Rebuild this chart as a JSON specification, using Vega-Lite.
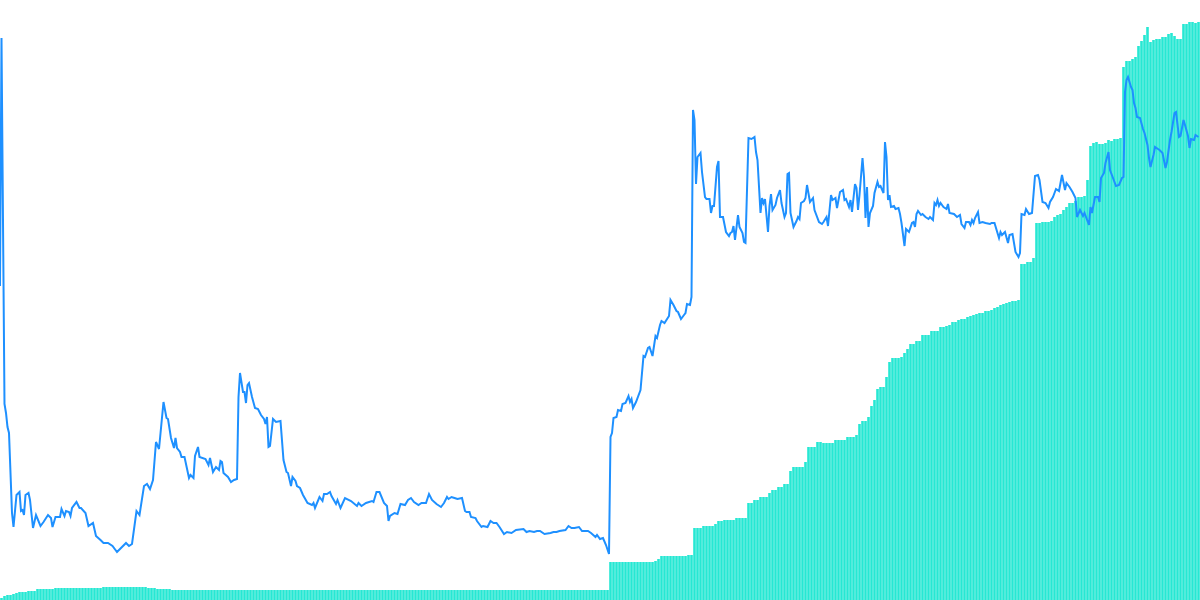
{
"$schema": "https://vega.github.io/schema/vega-lite/v6.json",
"width": 1200, "height": 600,
"autosize": {"type": "none"},
"padding": 0,
"background": "#ffffff",
"config": {"view": {"stroke": null}},
"datasets": {
"bars": [
{"day":1,"tvl":2},{"day":3,"tvl":4},{"day":5,"tvl":5},{"day":7,"tvl":5},{"day":9,"tvl":6},{"day":11,"tvl":7},{"day":13,"tvl":8},{"day":15,"tvl":8},{"day":17,"tvl":8},{"day":19,"tvl":9},{"day":21,"tvl":9},{"day":23,"tvl":9},
{"day":25,"tvl":11},{"day":27,"tvl":11},{"day":29,"tvl":11},{"day":31,"tvl":11},{"day":33,"tvl":11},{"day":35,"tvl":11},
{"day":37,"tvl":12},{"day":39,"tvl":12},{"day":41,"tvl":12},{"day":43,"tvl":12},{"day":45,"tvl":12},{"day":47,"tvl":12},{"day":49,"tvl":12},{"day":51,"tvl":12},{"day":53,"tvl":12},{"day":55,"tvl":12},{"day":57,"tvl":12},{"day":59,"tvl":12},{"day":61,"tvl":12},{"day":63,"tvl":12},{"day":65,"tvl":12},{"day":67,"tvl":12},
{"day":69,"tvl":13},{"day":71,"tvl":13},{"day":73,"tvl":13},{"day":75,"tvl":13},{"day":77,"tvl":13},{"day":79,"tvl":13},{"day":81,"tvl":13},{"day":83,"tvl":13},{"day":85,"tvl":13},{"day":87,"tvl":13},{"day":89,"tvl":13},{"day":91,"tvl":13},{"day":93,"tvl":13},{"day":95,"tvl":13},{"day":97,"tvl":13},
{"day":99,"tvl":12},{"day":101,"tvl":12},{"day":103,"tvl":12},
{"day":105,"tvl":11},{"day":107,"tvl":11},{"day":109,"tvl":11},{"day":111,"tvl":11},{"day":113,"tvl":11},
{"day":115,"tvl":10},{"day":117,"tvl":10},{"day":119,"tvl":10},{"day":121,"tvl":10},{"day":123,"tvl":10},{"day":125,"tvl":10},{"day":127,"tvl":10},{"day":129,"tvl":10},{"day":131,"tvl":10},{"day":133,"tvl":10},
{"day":135,"tvl":10},{"day":137,"tvl":10},{"day":139,"tvl":10},{"day":141,"tvl":10},{"day":143,"tvl":10},{"day":145,"tvl":10},{"day":147,"tvl":10},{"day":149,"tvl":10},{"day":151,"tvl":10},{"day":153,"tvl":10},
{"day":155,"tvl":10},{"day":157,"tvl":10},{"day":159,"tvl":10},{"day":161,"tvl":10},{"day":163,"tvl":10},{"day":165,"tvl":10},{"day":167,"tvl":10},{"day":169,"tvl":10},{"day":171,"tvl":10},{"day":173,"tvl":10},
{"day":175,"tvl":10},{"day":177,"tvl":10},{"day":179,"tvl":10},{"day":181,"tvl":10},{"day":183,"tvl":10},{"day":185,"tvl":10},{"day":187,"tvl":10},{"day":189,"tvl":10},{"day":191,"tvl":10},{"day":193,"tvl":10},
{"day":195,"tvl":10},{"day":197,"tvl":10},{"day":199,"tvl":10},{"day":201,"tvl":10},{"day":203,"tvl":10},{"day":205,"tvl":10},{"day":207,"tvl":10},{"day":209,"tvl":10},{"day":211,"tvl":10},{"day":213,"tvl":10},
{"day":215,"tvl":10},{"day":217,"tvl":10},{"day":219,"tvl":10},{"day":221,"tvl":10},{"day":223,"tvl":10},{"day":225,"tvl":10},{"day":227,"tvl":10},{"day":229,"tvl":10},{"day":231,"tvl":10},{"day":233,"tvl":10},
{"day":235,"tvl":10},{"day":237,"tvl":10},{"day":239,"tvl":10},{"day":241,"tvl":10},{"day":243,"tvl":10},{"day":245,"tvl":10},{"day":247,"tvl":10},{"day":249,"tvl":10},{"day":251,"tvl":10},{"day":253,"tvl":10},
{"day":255,"tvl":10},{"day":257,"tvl":10},{"day":259,"tvl":10},{"day":261,"tvl":10},{"day":263,"tvl":10},{"day":265,"tvl":10},{"day":267,"tvl":10},{"day":269,"tvl":10},{"day":271,"tvl":10},{"day":273,"tvl":10},
{"day":275,"tvl":10},{"day":277,"tvl":10},{"day":279,"tvl":10},{"day":281,"tvl":10},{"day":283,"tvl":10},{"day":285,"tvl":10},{"day":287,"tvl":10},{"day":289,"tvl":10},{"day":291,"tvl":10},{"day":293,"tvl":10},
{"day":295,"tvl":10},{"day":297,"tvl":10},{"day":299,"tvl":10},{"day":301,"tvl":10},{"day":303,"tvl":10},{"day":305,"tvl":10},{"day":307,"tvl":10},{"day":309,"tvl":10},{"day":311,"tvl":10},{"day":313,"tvl":10},
{"day":315,"tvl":10},{"day":317,"tvl":10},{"day":319,"tvl":10},{"day":321,"tvl":10},{"day":323,"tvl":10},{"day":325,"tvl":10},{"day":327,"tvl":10},{"day":329,"tvl":10},{"day":331,"tvl":10},{"day":333,"tvl":10},
{"day":335,"tvl":10},{"day":337,"tvl":10},{"day":339,"tvl":10},{"day":341,"tvl":10},{"day":343,"tvl":10},{"day":345,"tvl":10},{"day":347,"tvl":10},{"day":349,"tvl":10},{"day":351,"tvl":10},{"day":353,"tvl":10},
{"day":355,"tvl":10},{"day":357,"tvl":10},{"day":359,"tvl":10},{"day":361,"tvl":10},{"day":363,"tvl":10},{"day":365,"tvl":10},{"day":367,"tvl":10},{"day":369,"tvl":10},{"day":371,"tvl":10},{"day":373,"tvl":10},
{"day":375,"tvl":10},{"day":377,"tvl":10},{"day":379,"tvl":10},{"day":381,"tvl":10},{"day":383,"tvl":10},{"day":385,"tvl":10},{"day":387,"tvl":10},{"day":389,"tvl":10},{"day":391,"tvl":10},{"day":393,"tvl":10},
{"day":395,"tvl":10},{"day":397,"tvl":10},{"day":399,"tvl":10},{"day":401,"tvl":10},{"day":403,"tvl":10},{"day":405,"tvl":10},
{"day":407,"tvl":38},{"day":409,"tvl":38},{"day":411,"tvl":38},{"day":413,"tvl":38},{"day":415,"tvl":38},{"day":417,"tvl":38},{"day":419,"tvl":38},{"day":421,"tvl":38},{"day":423,"tvl":38},{"day":425,"tvl":38},{"day":427,"tvl":38},{"day":429,"tvl":38},{"day":431,"tvl":38},{"day":433,"tvl":38},{"day":435,"tvl":38},
{"day":437,"tvl":39},{"day":439,"tvl":41},
{"day":441,"tvl":44},{"day":443,"tvl":44},{"day":445,"tvl":44},{"day":447,"tvl":44},{"day":449,"tvl":44},{"day":451,"tvl":44},{"day":453,"tvl":44},{"day":455,"tvl":44},{"day":457,"tvl":44},
{"day":459,"tvl":45},{"day":461,"tvl":45},
{"day":463,"tvl":72},{"day":465,"tvl":72},{"day":467,"tvl":72},
{"day":469,"tvl":74},{"day":471,"tvl":74},{"day":473,"tvl":74},{"day":475,"tvl":74},
{"day":477,"tvl":76},{"day":479,"tvl":79},{"day":481,"tvl":79},
{"day":483,"tvl":80},{"day":485,"tvl":80},{"day":487,"tvl":80},{"day":489,"tvl":80},
{"day":491,"tvl":82},{"day":493,"tvl":82},{"day":495,"tvl":82},{"day":497,"tvl":82},
{"day":499,"tvl":97},{"day":501,"tvl":97},{"day":503,"tvl":100},{"day":505,"tvl":100},
{"day":507,"tvl":103},{"day":509,"tvl":103},{"day":511,"tvl":103},{"day":513,"tvl":107},
{"day":515,"tvl":110},{"day":517,"tvl":110},{"day":519,"tvl":113},{"day":521,"tvl":113},{"day":523,"tvl":116},{"day":525,"tvl":116},
{"day":527,"tvl":129},{"day":529,"tvl":133},{"day":531,"tvl":133},{"day":533,"tvl":133},{"day":535,"tvl":133},{"day":537,"tvl":138},
{"day":539,"tvl":153},{"day":541,"tvl":153},{"day":543,"tvl":153},{"day":545,"tvl":158},{"day":547,"tvl":158},
{"day":549,"tvl":157},{"day":551,"tvl":157},{"day":553,"tvl":157},{"day":555,"tvl":157},
{"day":557,"tvl":160},{"day":559,"tvl":160},{"day":561,"tvl":160},{"day":563,"tvl":160},
{"day":565,"tvl":163},{"day":567,"tvl":163},{"day":569,"tvl":163},{"day":571,"tvl":165},
{"day":573,"tvl":176},{"day":575,"tvl":179},{"day":577,"tvl":179},{"day":579,"tvl":183},{"day":581,"tvl":194},{"day":583,"tvl":200},
{"day":585,"tvl":211},{"day":587,"tvl":213},{"day":589,"tvl":213},{"day":591,"tvl":223},{"day":593,"tvl":238},
{"day":595,"tvl":242},{"day":597,"tvl":242},{"day":599,"tvl":242},
{"day":601,"tvl":243},{"day":603,"tvl":247},{"day":605,"tvl":251},{"day":607,"tvl":256},{"day":609,"tvl":256},{"day":611,"tvl":259},{"day":613,"tvl":259},
{"day":615,"tvl":265},{"day":617,"tvl":265},{"day":619,"tvl":265},{"day":621,"tvl":269},{"day":623,"tvl":269},{"day":625,"tvl":269},
{"day":627,"tvl":273},{"day":629,"tvl":273},{"day":631,"tvl":274},{"day":633,"tvl":275},{"day":635,"tvl":278},{"day":637,"tvl":278},
{"day":639,"tvl":280},{"day":641,"tvl":281},{"day":643,"tvl":281},{"day":645,"tvl":283},{"day":647,"tvl":284},{"day":649,"tvl":285},
{"day":651,"tvl":286},{"day":653,"tvl":287},{"day":655,"tvl":287},{"day":657,"tvl":289},{"day":659,"tvl":289},{"day":661,"tvl":290},
{"day":663,"tvl":292},{"day":665,"tvl":293},{"day":667,"tvl":295},{"day":669,"tvl":296},{"day":671,"tvl":297},{"day":673,"tvl":298},
{"day":675,"tvl":299},{"day":677,"tvl":299},{"day":679,"tvl":300},
{"day":681,"tvl":336},{"day":683,"tvl":336},{"day":685,"tvl":338},{"day":687,"tvl":338},{"day":689,"tvl":342},
{"day":691,"tvl":377},{"day":693,"tvl":377},{"day":695,"tvl":378},{"day":697,"tvl":378},{"day":699,"tvl":378},{"day":701,"tvl":379},
{"day":703,"tvl":383},{"day":705,"tvl":385},{"day":707,"tvl":386},{"day":709,"tvl":390},{"day":711,"tvl":393},{"day":713,"tvl":397},
{"day":715,"tvl":397},{"day":717,"tvl":399},{"day":719,"tvl":403},{"day":721,"tvl":403},{"day":723,"tvl":404},{"day":725,"tvl":420},
{"day":727,"tvl":454},{"day":729,"tvl":457},{"day":731,"tvl":458},{"day":733,"tvl":456},{"day":735,"tvl":456},{"day":737,"tvl":457},
{"day":739,"tvl":460},{"day":741,"tvl":459},{"day":743,"tvl":461},{"day":745,"tvl":461},{"day":747,"tvl":462},
{"day":749,"tvl":533},{"day":751,"tvl":539},{"day":753,"tvl":539},{"day":755,"tvl":541},{"day":757,"tvl":543},{"day":759,"tvl":554},
{"day":761,"tvl":559},{"day":763,"tvl":565},{"day":765,"tvl":573},{"day":767,"tvl":558},{"day":769,"tvl":560},{"day":771,"tvl":561},
{"day":773,"tvl":561},{"day":775,"tvl":563},{"day":777,"tvl":563},{"day":779,"tvl":566},{"day":781,"tvl":567},{"day":783,"tvl":564},
{"day":785,"tvl":561},{"day":787,"tvl":561},{"day":789,"tvl":576},{"day":791,"tvl":576},{"day":793,"tvl":578},{"day":795,"tvl":578},
{"day":797,"tvl":577},{"day":799,"tvl":578}
],
"line": [
{"day":0,"price":314},{"day":1,"price":562},{"day":3,"price":196},{"day":4,"price":187},{"day":5,"price":173},{"day":6,"price":167},{"day":8,"price":87},{"day":9,"price":73},
{"day":11,"price":105},{"day":13,"price":108},{"day":14,"price":89},{"day":15,"price":90},{"day":16,"price":85},{"day":17,"price":105},{"day":19,"price":107},{"day":20,"price":100},
{"day":22,"price":72},{"day":24,"price":85},{"day":27,"price":74},{"day":29,"price":78},{"day":32,"price":85},{"day":34,"price":82},{"day":35,"price":73},{"day":37,"price":83},
{"day":40,"price":83},{"day":41,"price":91},{"day":43,"price":84},{"day":44,"price":89},{"day":46,"price":88},{"day":47,"price":84},{"day":48,"price":92},{"day":51,"price":98},
{"day":53,"price":92},{"day":54,"price":92},{"day":57,"price":87},{"day":59,"price":74},{"day":62,"price":77},{"day":64,"price":64},{"day":67,"price":60},{"day":69,"price":57},
{"day":72,"price":57},{"day":75,"price":54},{"day":78,"price":48},{"day":80,"price":51},{"day":84,"price":57},{"day":86,"price":54},{"day":88,"price":56},{"day":91,"price":89},
{"day":93,"price":85},{"day":96,"price":114},{"day":98,"price":116},{"day":100,"price":111},{"day":102,"price":120},{"day":104,"price":158},{"day":106,"price":151},{"day":109,"price":198},
{"day":111,"price":182},{"day":112,"price":181},{"day":114,"price":162},{"day":116,"price":152},{"day":117,"price":162},{"day":118,"price":152},{"day":120,"price":148},{"day":121,"price":143},
{"day":123,"price":143},{"day":126,"price":122},{"day":127,"price":125},{"day":129,"price":122},{"day":130,"price":144},{"day":132,"price":153},{"day":133,"price":143},{"day":137,"price":141},
{"day":139,"price":135},{"day":140,"price":142},{"day":142,"price":128},{"day":144,"price":133},{"day":146,"price":130},{"day":147,"price":139},{"day":148,"price":138},{"day":149,"price":127},
{"day":152,"price":123},{"day":154,"price":118},{"day":156,"price":120},{"day":158,"price":121},{"day":159,"price":203},{"day":160,"price":227},{"day":162,"price":208},{"day":163,"price":208},
{"day":164,"price":197},{"day":165,"price":215},{"day":166,"price":217},{"day":168,"price":203},{"day":170,"price":192},{"day":172,"price":191},{"day":174,"price":185},{"day":176,"price":181},
{"day":177,"price":176},{"day":178,"price":183},{"day":179,"price":153},{"day":180,"price":154},{"day":182,"price":181},{"day":184,"price":178},{"day":187,"price":179},{"day":189,"price":140},
{"day":191,"price":128},{"day":192,"price":127},{"day":194,"price":114},{"day":195,"price":123},{"day":197,"price":119},{"day":198,"price":114},{"day":200,"price":112},
{"day":202,"price":105},{"day":205,"price":97},{"day":208,"price":95},{"day":209,"price":97},{"day":210,"price":92},{"day":213,"price":103},{"day":215,"price":99},{"day":216,"price":106},
{"day":218,"price":106},{"day":220,"price":108},{"day":221,"price":104},{"day":224,"price":96},{"day":225,"price":100},{"day":227,"price":92},{"day":230,"price":102},{"day":234,"price":99},
{"day":238,"price":94},{"day":239,"price":97},{"day":241,"price":94},{"day":244,"price":97},{"day":248,"price":99},{"day":249,"price":98},{"day":251,"price":108},{"day":253,"price":108},
{"day":256,"price":97},{"day":258,"price":94},{"day":259,"price":79},{"day":260,"price":84},{"day":263,"price":87},{"day":265,"price":86},{"day":267,"price":96},{"day":270,"price":95},
{"day":272,"price":100},{"day":274,"price":102},{"day":276,"price":98},{"day":279,"price":95},{"day":281,"price":97},{"day":284,"price":97},{"day":286,"price":106},{"day":288,"price":100},
{"day":291,"price":96},{"day":294,"price":93},{"day":296,"price":97},{"day":298,"price":103},{"day":299,"price":101},{"day":301,"price":103},{"day":303,"price":102},{"day":305,"price":101},
{"day":308,"price":102},{"day":310,"price":89},{"day":311,"price":88},{"day":313,"price":88},{"day":314,"price":83},{"day":317,"price":82},{"day":318,"price":79},{"day":321,"price":73},
{"day":322,"price":74},{"day":325,"price":73},{"day":327,"price":79},{"day":329,"price":77},{"day":331,"price":77},{"day":333,"price":73},{"day":336,"price":66},{"day":338,"price":68},
{"day":341,"price":67},{"day":344,"price":70},{"day":349,"price":71},{"day":351,"price":68},{"day":353,"price":69},{"day":356,"price":68},{"day":358,"price":69},{"day":360,"price":69},
{"day":363,"price":66},{"day":367,"price":67},{"day":369,"price":68},{"day":371,"price":68},{"day":373,"price":69},{"day":377,"price":70},{"day":379,"price":74},{"day":381,"price":72},
{"day":383,"price":72},{"day":386,"price":73},{"day":388,"price":69},{"day":392,"price":69},{"day":394,"price":67},{"day":397,"price":63},{"day":398,"price":65},{"day":400,"price":61},
{"day":402,"price":62},{"day":404,"price":55},{"day":406,"price":46},{"day":407,"price":163},{"day":408,"price":167},{"day":409,"price":182},{"day":411,"price":183},{"day":412,"price":190},
{"day":414,"price":189},{"day":415,"price":196},{"day":417,"price":197},{"day":419,"price":204},{"day":420,"price":198},{"day":421,"price":201},{"day":422,"price":192},{"day":424,"price":198},
{"day":427,"price":210},{"day":429,"price":244},{"day":430,"price":243},{"day":432,"price":252},{"day":433,"price":253},{"day":435,"price":244},{"day":437,"price":264},{"day":438,"price":262},
{"day":440,"price":275},{"day":441,"price":279},{"day":443,"price":277},{"day":446,"price":284},{"day":447,"price":300},{"day":449,"price":295},{"day":451,"price":289},{"day":452,"price":288},
{"day":454,"price":281},{"day":456,"price":285},{"day":457,"price":287},{"day":458,"price":296},{"day":460,"price":295},{"day":461,"price":303},{"day":462,"price":490},{"day":463,"price":480},
{"day":464,"price":416},{"day":465,"price":443},{"day":467,"price":447},{"day":468,"price":428},{"day":470,"price":403},{"day":471,"price":401},{"day":473,"price":401},{"day":474,"price":387},
{"day":475,"price":394},{"day":476,"price":394},{"day":478,"price":433},{"day":479,"price":439},{"day":480,"price":383},{"day":482,"price":383},{"day":484,"price":368},{"day":486,"price":364},
{"day":487,"price":367},{"day":488,"price":368},{"day":489,"price":374},{"day":490,"price":360},{"day":492,"price":385},{"day":493,"price":373},{"day":495,"price":367},{"day":496,"price":358},
{"day":497,"price":357},{"day":499,"price":462},{"day":501,"price":461},{"day":503,"price":463},{"day":504,"price":448},{"day":505,"price":440},{"day":507,"price":387},{"day":508,"price":402},
{"day":509,"price":397},{"day":510,"price":401},{"day":512,"price":368},{"day":513,"price":394},{"day":514,"price":406},{"day":515,"price":390},{"day":517,"price":395},{"day":518,"price":402},
{"day":520,"price":410},{"day":521,"price":397},{"day":523,"price":383},{"day":524,"price":387},{"day":525,"price":426},{"day":526,"price":427},{"day":527,"price":387},{"day":529,"price":373},
{"day":531,"price":379},{"day":532,"price":383},{"day":533,"price":381},{"day":534,"price":397},{"day":536,"price":399},{"day":537,"price":402},{"day":538,"price":415},{"day":540,"price":398},
{"day":542,"price":402},{"day":543,"price":390},{"day":546,"price":378},{"day":548,"price":376},{"day":549,"price":378},{"day":551,"price":383},{"day":552,"price":374},{"day":554,"price":405},
{"day":555,"price":400},{"day":557,"price":402},{"day":558,"price":392},{"day":560,"price":408},{"day":562,"price":410},{"day":563,"price":400},{"day":564,"price":401},{"day":566,"price":393},
{"day":567,"price":400},{"day":568,"price":388},{"day":570,"price":416},{"day":571,"price":412},{"day":572,"price":390},{"day":573,"price":405},{"day":575,"price":442},{"day":576,"price":423},
{"day":577,"price":382},{"day":578,"price":413},{"day":579,"price":373},{"day":580,"price":387},{"day":582,"price":394},{"day":583,"price":407},{"day":585,"price":418},{"day":586,"price":413},
{"day":587,"price":414},{"day":589,"price":407},{"day":590,"price":458},{"day":591,"price":443},{"day":592,"price":400},{"day":593,"price":405},{"day":594,"price":393},{"day":596,"price":394},
{"day":597,"price":391},{"day":599,"price":392},{"day":600,"price":386},{"day":601,"price":377},{"day":603,"price":354},{"day":604,"price":371},{"day":606,"price":368},{"day":608,"price":377},
{"day":609,"price":378},{"day":610,"price":373},{"day":611,"price":386},{"day":612,"price":389},{"day":614,"price":385},{"day":615,"price":386},{"day":617,"price":383},{"day":619,"price":381},
{"day":620,"price":383},{"day":622,"price":380},{"day":623,"price":397},{"day":624,"price":395},{"day":625,"price":400},{"day":626,"price":394},{"day":627,"price":397},{"day":629,"price":393},
{"day":631,"price":391},{"day":632,"price":396},{"day":633,"price":387},{"day":636,"price":386},{"day":638,"price":383},{"day":640,"price":385},{"day":641,"price":376},{"day":643,"price":372},
{"day":644,"price":378},{"day":646,"price":378},{"day":647,"price":375},{"day":648,"price":380},{"day":649,"price":377},{"day":650,"price":382},{"day":652,"price":388},{"day":653,"price":377},
{"day":655,"price":378},{"day":657,"price":377},{"day":660,"price":376},{"day":661,"price":377},{"day":663,"price":377},{"day":666,"price":362},{"day":667,"price":368},{"day":668,"price":365},
{"day":670,"price":368},{"day":672,"price":357},{"day":673,"price":365},{"day":675,"price":366},{"day":677,"price":348},{"day":679,"price":343},{"day":680,"price":347},{"day":681,"price":386},
{"day":683,"price":385},{"day":684,"price":391},{"day":686,"price":386},{"day":688,"price":387},{"day":690,"price":424},{"day":692,"price":425},{"day":693,"price":420},{"day":695,"price":398},
{"day":697,"price":397},{"day":699,"price":392},{"day":700,"price":398},{"day":702,"price":403},{"day":703,"price":407},{"day":704,"price":411},{"day":706,"price":409},{"day":708,"price":425},
{"day":710,"price":410},{"day":711,"price":417},{"day":713,"price":413},{"day":715,"price":408},{"day":717,"price":402},{"day":718,"price":383},{"day":720,"price":390},{"day":722,"price":384},
{"day":723,"price":387},{"day":724,"price":383},{"day":726,"price":375},{"day":727,"price":393},{"day":728,"price":387},{"day":730,"price":403},{"day":732,"price":403},{"day":733,"price":398},
{"day":734,"price":422},{"day":736,"price":427},{"day":737,"price":437},{"day":739,"price":448},{"day":740,"price":430},{"day":742,"price":422},{"day":744,"price":414},{"day":746,"price":415},
{"day":748,"price":422},{"day":749,"price":423},{"day":750,"price":508},{"day":751,"price":520},{"day":752,"price":523},{"day":754,"price":513},{"day":755,"price":510},{"day":756,"price":497},
{"day":757,"price":492},{"day":758,"price":483},{"day":760,"price":482},{"day":762,"price":471},{"day":763,"price":467},{"day":765,"price":455},{"day":766,"price":442},{"day":767,"price":433},
{"day":769,"price":445},{"day":770,"price":453},{"day":772,"price":451},{"day":773,"price":450},{"day":775,"price":447},{"day":777,"price":432},{"day":778,"price":438},{"day":780,"price":460},
{"day":781,"price":468},{"day":783,"price":487},{"day":784,"price":488},{"day":786,"price":463},{"day":787,"price":464},{"day":789,"price":480},{"day":790,"price":475},{"day":792,"price":464},
{"day":793,"price":452},{"day":794,"price":461},{"day":796,"price":460},{"day":797,"price":465},{"day":799,"price":463}
]
},
"layer": [
{
"data": {"name": "bars"},
"mark": {"type": "bar", "size": 2.6, "color": "#26e8d3"},
"encoding": {
"x": {"field": "day", "type": "quantitative", "scale": {"domain": [0, 800], "nice": false, "zero": false, "padding": 0}, "axis": null},
"y": {"field": "tvl", "type": "quantitative", "scale": {"domain": [0, 600], "nice": false}, "axis": null}
}
},
{
"data": {"name": "line"},
"mark": {"type": "line", "color": "#1e90ff", "strokeWidth": 2},
"encoding": {
"x": {"field": "day", "type": "quantitative", "axis": null},
"y": {"field": "price", "type": "quantitative", "axis": null}
}
}
]
}
